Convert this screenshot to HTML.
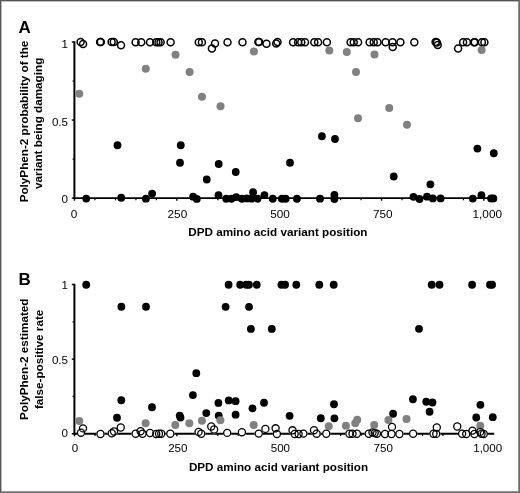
<!DOCTYPE html>
<html lang="en"><head><meta charset="utf-8"><title>PolyPhen-2 DPD variants</title>
<style>html,body{margin:0;padding:0;background:#fff}body{width:520px;height:493px;position:relative;overflow:hidden}</style></head>
<body>
<svg width="520" height="493" viewBox="0 0 520 493" style="position:absolute;left:0;top:0">
<rect x="0" y="0" width="520" height="493" fill="#fff"/>
<line x1="74.4" y1="41.25" x2="74.4" y2="199.04999999999998" stroke="#000" stroke-width="2"/><line x1="73.4" y1="198.1" x2="493.5" y2="198.1" stroke="#000" stroke-width="1.8"/><line x1="71.8" y1="42.00" x2="74" y2="42.00" stroke="#000" stroke-width="1.4"/><line x1="72.6" y1="81.03" x2="74" y2="81.03" stroke="#000" stroke-width="1.2"/><line x1="71.8" y1="120.05" x2="74" y2="120.05" stroke="#000" stroke-width="1.4"/><line x1="72.6" y1="159.07" x2="74" y2="159.07" stroke="#000" stroke-width="1.2"/><line x1="71.8" y1="198.10" x2="74" y2="198.10" stroke="#000" stroke-width="1.4"/><line x1="74.50" y1="198.1" x2="74.50" y2="200.70" stroke="#000" stroke-width="1.4"/><line x1="94.97" y1="198.1" x2="94.97" y2="200.30" stroke="#000" stroke-width="1.2"/><line x1="115.44" y1="198.1" x2="115.44" y2="200.30" stroke="#000" stroke-width="1.2"/><line x1="135.91" y1="198.1" x2="135.91" y2="200.30" stroke="#000" stroke-width="1.2"/><line x1="156.38" y1="198.1" x2="156.38" y2="200.30" stroke="#000" stroke-width="1.2"/><line x1="176.85" y1="198.1" x2="176.85" y2="200.70" stroke="#000" stroke-width="1.4"/><line x1="197.32" y1="198.1" x2="197.32" y2="200.30" stroke="#000" stroke-width="1.2"/><line x1="217.79" y1="198.1" x2="217.79" y2="200.30" stroke="#000" stroke-width="1.2"/><line x1="238.26" y1="198.1" x2="238.26" y2="200.30" stroke="#000" stroke-width="1.2"/><line x1="258.73" y1="198.1" x2="258.73" y2="200.30" stroke="#000" stroke-width="1.2"/><line x1="279.20" y1="198.1" x2="279.20" y2="200.70" stroke="#000" stroke-width="1.4"/><line x1="299.67" y1="198.1" x2="299.67" y2="200.30" stroke="#000" stroke-width="1.2"/><line x1="320.14" y1="198.1" x2="320.14" y2="200.30" stroke="#000" stroke-width="1.2"/><line x1="340.61" y1="198.1" x2="340.61" y2="200.30" stroke="#000" stroke-width="1.2"/><line x1="361.08" y1="198.1" x2="361.08" y2="200.30" stroke="#000" stroke-width="1.2"/><line x1="381.55" y1="198.1" x2="381.55" y2="200.70" stroke="#000" stroke-width="1.4"/><line x1="402.02" y1="198.1" x2="402.02" y2="200.30" stroke="#000" stroke-width="1.2"/><line x1="422.49" y1="198.1" x2="422.49" y2="200.30" stroke="#000" stroke-width="1.2"/><line x1="442.96" y1="198.1" x2="442.96" y2="200.30" stroke="#000" stroke-width="1.2"/><line x1="463.43" y1="198.1" x2="463.43" y2="200.30" stroke="#000" stroke-width="1.2"/><line x1="483.90" y1="198.1" x2="483.90" y2="200.70" stroke="#000" stroke-width="1.4"/>
<line x1="74.4" y1="283.75" x2="74.4" y2="434.65" stroke="#000" stroke-width="2"/><line x1="73.4" y1="433.7" x2="494.2" y2="433.7" stroke="#000" stroke-width="2.0"/><line x1="71.8" y1="284.50" x2="74" y2="284.50" stroke="#000" stroke-width="1.4"/><line x1="72.6" y1="321.80" x2="74" y2="321.80" stroke="#000" stroke-width="1.2"/><line x1="71.8" y1="359.10" x2="74" y2="359.10" stroke="#000" stroke-width="1.4"/><line x1="72.6" y1="396.40" x2="74" y2="396.40" stroke="#000" stroke-width="1.2"/><line x1="71.8" y1="433.70" x2="74" y2="433.70" stroke="#000" stroke-width="1.4"/><line x1="74.50" y1="433.7" x2="74.50" y2="436.30" stroke="#000" stroke-width="1.4"/><line x1="94.97" y1="433.7" x2="94.97" y2="435.90" stroke="#000" stroke-width="1.2"/><line x1="115.44" y1="433.7" x2="115.44" y2="435.90" stroke="#000" stroke-width="1.2"/><line x1="135.91" y1="433.7" x2="135.91" y2="435.90" stroke="#000" stroke-width="1.2"/><line x1="156.38" y1="433.7" x2="156.38" y2="435.90" stroke="#000" stroke-width="1.2"/><line x1="176.85" y1="433.7" x2="176.85" y2="436.30" stroke="#000" stroke-width="1.4"/><line x1="197.32" y1="433.7" x2="197.32" y2="435.90" stroke="#000" stroke-width="1.2"/><line x1="217.79" y1="433.7" x2="217.79" y2="435.90" stroke="#000" stroke-width="1.2"/><line x1="238.26" y1="433.7" x2="238.26" y2="435.90" stroke="#000" stroke-width="1.2"/><line x1="258.73" y1="433.7" x2="258.73" y2="435.90" stroke="#000" stroke-width="1.2"/><line x1="279.20" y1="433.7" x2="279.20" y2="436.30" stroke="#000" stroke-width="1.4"/><line x1="299.67" y1="433.7" x2="299.67" y2="435.90" stroke="#000" stroke-width="1.2"/><line x1="320.14" y1="433.7" x2="320.14" y2="435.90" stroke="#000" stroke-width="1.2"/><line x1="340.61" y1="433.7" x2="340.61" y2="435.90" stroke="#000" stroke-width="1.2"/><line x1="361.08" y1="433.7" x2="361.08" y2="435.90" stroke="#000" stroke-width="1.2"/><line x1="381.55" y1="433.7" x2="381.55" y2="436.30" stroke="#000" stroke-width="1.4"/><line x1="402.02" y1="433.7" x2="402.02" y2="435.90" stroke="#000" stroke-width="1.2"/><line x1="422.49" y1="433.7" x2="422.49" y2="435.90" stroke="#000" stroke-width="1.2"/><line x1="442.96" y1="433.7" x2="442.96" y2="435.90" stroke="#000" stroke-width="1.2"/><line x1="463.43" y1="433.7" x2="463.43" y2="435.90" stroke="#000" stroke-width="1.2"/><line x1="483.90" y1="433.7" x2="483.90" y2="436.30" stroke="#000" stroke-width="1.4"/>
<circle cx="117.5" cy="145.25" r="3.9" fill="#000"/><circle cx="180.75" cy="145.25" r="3.9" fill="#000"/><circle cx="180" cy="162.75" r="3.9" fill="#000"/><circle cx="86.2" cy="198.55" r="3.9" fill="#000"/><circle cx="121.25" cy="197.75" r="3.9" fill="#000"/><circle cx="145.9" cy="198.65" r="3.9" fill="#000"/><circle cx="152.1" cy="193.55" r="3.9" fill="#000"/><circle cx="193.1" cy="196.65" r="3.9" fill="#000"/><circle cx="196.8" cy="198.95" r="3.9" fill="#000"/><circle cx="321.9" cy="136.25" r="3.9" fill="#000"/><circle cx="335" cy="139.0" r="3.9" fill="#000"/><circle cx="218.7" cy="164.0" r="3.9" fill="#000"/><circle cx="290" cy="162.75" r="3.9" fill="#000"/><circle cx="235.75" cy="172.0" r="3.9" fill="#000"/><circle cx="206.75" cy="179.5" r="3.9" fill="#000"/><circle cx="218.5" cy="195.25" r="3.9" fill="#000"/><circle cx="226.25" cy="198.75" r="3.9" fill="#000"/><circle cx="231.5" cy="198.75" r="3.9" fill="#000"/><circle cx="236.25" cy="197.05" r="3.9" fill="#000"/><circle cx="241.9" cy="198.75" r="3.9" fill="#000"/><circle cx="246.9" cy="198.45" r="3.9" fill="#000"/><circle cx="251.5" cy="198.65" r="3.9" fill="#000"/><circle cx="253.1" cy="192.25" r="3.9" fill="#000"/><circle cx="257.5" cy="198.75" r="3.9" fill="#000"/><circle cx="264.4" cy="195.05" r="3.9" fill="#000"/><circle cx="272.75" cy="198.75" r="3.9" fill="#000"/><circle cx="281.9" cy="198.75" r="3.9" fill="#000"/><circle cx="285.6" cy="198.75" r="3.9" fill="#000"/><circle cx="296.9" cy="198.75" r="3.9" fill="#000"/><circle cx="320" cy="198.65" r="3.9" fill="#000"/><circle cx="334.4" cy="195.0" r="3.9" fill="#000"/><circle cx="334.4" cy="199.0" r="3.9" fill="#000"/><circle cx="393.75" cy="176.5" r="3.9" fill="#000"/><circle cx="477.4" cy="148.55" r="3.9" fill="#000"/><circle cx="493.8" cy="153.25" r="3.9" fill="#000"/><circle cx="430.4" cy="184.35" r="3.9" fill="#000"/><circle cx="413.5" cy="196.85" r="3.9" fill="#000"/><circle cx="419.5" cy="199.0" r="3.9" fill="#000"/><circle cx="427" cy="196.65" r="3.9" fill="#000"/><circle cx="432.8" cy="198.45" r="3.9" fill="#000"/><circle cx="440.6" cy="198.45" r="3.9" fill="#000"/><circle cx="472.8" cy="198.55" r="3.9" fill="#000"/><circle cx="481.4" cy="195.15" r="3.9" fill="#000"/><circle cx="491.1" cy="198.45" r="3.9" fill="#000"/><circle cx="493.4" cy="198.45" r="3.9" fill="#000"/>
<circle cx="79.25" cy="93.85" r="4.0" fill="#818181"/><circle cx="145.75" cy="68.85" r="4.0" fill="#818181"/><circle cx="175.55" cy="54.7" r="4.0" fill="#818181"/><circle cx="189.6" cy="72.1" r="4.0" fill="#818181"/><circle cx="202" cy="96.7" r="4.0" fill="#818181"/><circle cx="220.5" cy="106.35" r="4.0" fill="#818181"/><circle cx="253.9" cy="51.5" r="4.0" fill="#818181"/><circle cx="329.3" cy="50.5" r="4.0" fill="#818181"/><circle cx="346.8" cy="51.9" r="4.0" fill="#818181"/><circle cx="374.5" cy="54.6" r="4.0" fill="#818181"/><circle cx="356" cy="72.1" r="4.0" fill="#818181"/><circle cx="389.25" cy="108.1" r="4.0" fill="#818181"/><circle cx="358" cy="118.35" r="4.0" fill="#818181"/><circle cx="407" cy="124.85" r="4.0" fill="#818181"/><circle cx="481.6" cy="50.1" r="4.0" fill="#818181"/>
<circle cx="80.6" cy="42.1" r="4.25" fill="#fff"/><circle cx="83.05" cy="44.0" r="4.25" fill="#fff"/><circle cx="100.1" cy="42.1" r="4.25" fill="#fff"/><circle cx="100.8" cy="42.1" r="4.25" fill="#fff"/><circle cx="111.6" cy="42.1" r="4.25" fill="#fff"/><circle cx="113.75" cy="42.1" r="4.25" fill="#fff"/><circle cx="121" cy="45.25" r="4.25" fill="#fff"/><circle cx="135.6" cy="42.25" r="4.25" fill="#fff"/><circle cx="141.25" cy="42.25" r="4.25" fill="#fff"/><circle cx="150" cy="42.25" r="4.25" fill="#fff"/><circle cx="156.25" cy="42.25" r="4.25" fill="#fff"/><circle cx="158.5" cy="42.25" r="4.25" fill="#fff"/><circle cx="160.6" cy="42.25" r="4.25" fill="#fff"/><circle cx="170.6" cy="42.25" r="4.25" fill="#fff"/><circle cx="198.75" cy="42.25" r="4.25" fill="#fff"/><circle cx="201.9" cy="42.25" r="4.25" fill="#fff"/><circle cx="215" cy="43.5" r="4.25" fill="#fff"/><circle cx="211.9" cy="48.5" r="4.25" fill="#fff"/><circle cx="227.5" cy="42.25" r="4.25" fill="#fff"/><circle cx="242.5" cy="42.25" r="4.25" fill="#fff"/><circle cx="258.4" cy="42.1" r="4.25" fill="#fff"/><circle cx="259.1" cy="42.1" r="4.25" fill="#fff"/><circle cx="266.5" cy="43.75" r="4.25" fill="#fff"/><circle cx="276.2" cy="43.5" r="4.25" fill="#fff"/><circle cx="277.5" cy="42.0" r="4.25" fill="#fff"/><circle cx="293.1" cy="42.25" r="4.25" fill="#fff"/><circle cx="298.1" cy="42.25" r="4.25" fill="#fff"/><circle cx="301.25" cy="42.25" r="4.25" fill="#fff"/><circle cx="305" cy="42.25" r="4.25" fill="#fff"/><circle cx="314.3" cy="42.25" r="4.25" fill="#fff"/><circle cx="318.1" cy="42.25" r="4.25" fill="#fff"/><circle cx="326.9" cy="42.25" r="4.25" fill="#fff"/><circle cx="350.6" cy="42.25" r="4.25" fill="#fff"/><circle cx="353.75" cy="42.25" r="4.25" fill="#fff"/><circle cx="358.1" cy="42.25" r="4.25" fill="#fff"/><circle cx="369.6" cy="42.25" r="4.25" fill="#fff"/><circle cx="373.75" cy="42.25" r="4.25" fill="#fff"/><circle cx="377.5" cy="42.25" r="4.25" fill="#fff"/><circle cx="385.6" cy="42.25" r="4.25" fill="#fff"/><circle cx="392.5" cy="42.25" r="4.25" fill="#fff"/><circle cx="392.75" cy="46.9" r="4.25" fill="#fff"/><circle cx="400.4" cy="42.25" r="4.25" fill="#fff"/><circle cx="414.3" cy="42.25" r="4.25" fill="#fff"/><circle cx="435.6" cy="41.9" r="4.25" fill="#fff"/><circle cx="436.9" cy="42.5" r="4.25" fill="#fff"/><circle cx="437.75" cy="45" r="4.25" fill="#fff"/><circle cx="458.1" cy="48.5" r="4.25" fill="#fff"/><circle cx="463.1" cy="42.25" r="4.25" fill="#fff"/><circle cx="466.9" cy="42.25" r="4.25" fill="#fff"/><circle cx="474.1" cy="42.25" r="4.25" fill="#fff"/><circle cx="474.8" cy="42.25" r="4.25" fill="#fff"/><circle cx="481.9" cy="42.25" r="4.25" fill="#fff"/><circle cx="484.4" cy="42.25" r="4.25" fill="#fff"/>
<circle cx="80.6" cy="42.1" r="3.5" fill="none" stroke="#000" stroke-width="1.5"/><circle cx="83.05" cy="44.0" r="3.5" fill="none" stroke="#000" stroke-width="1.5"/><circle cx="100.1" cy="42.1" r="3.5" fill="none" stroke="#000" stroke-width="1.5"/><circle cx="100.8" cy="42.1" r="3.5" fill="none" stroke="#000" stroke-width="1.5"/><circle cx="111.6" cy="42.1" r="3.5" fill="none" stroke="#000" stroke-width="1.5"/><circle cx="113.75" cy="42.1" r="3.5" fill="none" stroke="#000" stroke-width="1.5"/><circle cx="121" cy="45.25" r="3.5" fill="none" stroke="#000" stroke-width="1.5"/><circle cx="135.6" cy="42.25" r="3.5" fill="none" stroke="#000" stroke-width="1.5"/><circle cx="141.25" cy="42.25" r="3.5" fill="none" stroke="#000" stroke-width="1.5"/><circle cx="150" cy="42.25" r="3.5" fill="none" stroke="#000" stroke-width="1.5"/><circle cx="156.25" cy="42.25" r="3.5" fill="none" stroke="#000" stroke-width="1.5"/><circle cx="158.5" cy="42.25" r="3.5" fill="none" stroke="#000" stroke-width="1.5"/><circle cx="160.6" cy="42.25" r="3.5" fill="none" stroke="#000" stroke-width="1.5"/><circle cx="170.6" cy="42.25" r="3.5" fill="none" stroke="#000" stroke-width="1.5"/><circle cx="198.75" cy="42.25" r="3.5" fill="none" stroke="#000" stroke-width="1.5"/><circle cx="201.9" cy="42.25" r="3.5" fill="none" stroke="#000" stroke-width="1.5"/><circle cx="215" cy="43.5" r="3.5" fill="none" stroke="#000" stroke-width="1.5"/><circle cx="211.9" cy="48.5" r="3.5" fill="none" stroke="#000" stroke-width="1.5"/><circle cx="227.5" cy="42.25" r="3.5" fill="none" stroke="#000" stroke-width="1.5"/><circle cx="242.5" cy="42.25" r="3.5" fill="none" stroke="#000" stroke-width="1.5"/><circle cx="258.4" cy="42.1" r="3.5" fill="none" stroke="#000" stroke-width="1.5"/><circle cx="259.1" cy="42.1" r="3.5" fill="none" stroke="#000" stroke-width="1.5"/><circle cx="266.5" cy="43.75" r="3.5" fill="none" stroke="#000" stroke-width="1.5"/><circle cx="276.2" cy="43.5" r="3.5" fill="none" stroke="#000" stroke-width="1.5"/><circle cx="277.5" cy="42.0" r="3.5" fill="none" stroke="#000" stroke-width="1.5"/><circle cx="293.1" cy="42.25" r="3.5" fill="none" stroke="#000" stroke-width="1.5"/><circle cx="298.1" cy="42.25" r="3.5" fill="none" stroke="#000" stroke-width="1.5"/><circle cx="301.25" cy="42.25" r="3.5" fill="none" stroke="#000" stroke-width="1.5"/><circle cx="305" cy="42.25" r="3.5" fill="none" stroke="#000" stroke-width="1.5"/><circle cx="314.3" cy="42.25" r="3.5" fill="none" stroke="#000" stroke-width="1.5"/><circle cx="318.1" cy="42.25" r="3.5" fill="none" stroke="#000" stroke-width="1.5"/><circle cx="326.9" cy="42.25" r="3.5" fill="none" stroke="#000" stroke-width="1.5"/><circle cx="350.6" cy="42.25" r="3.5" fill="none" stroke="#000" stroke-width="1.5"/><circle cx="353.75" cy="42.25" r="3.5" fill="none" stroke="#000" stroke-width="1.5"/><circle cx="358.1" cy="42.25" r="3.5" fill="none" stroke="#000" stroke-width="1.5"/><circle cx="369.6" cy="42.25" r="3.5" fill="none" stroke="#000" stroke-width="1.5"/><circle cx="373.75" cy="42.25" r="3.5" fill="none" stroke="#000" stroke-width="1.5"/><circle cx="377.5" cy="42.25" r="3.5" fill="none" stroke="#000" stroke-width="1.5"/><circle cx="385.6" cy="42.25" r="3.5" fill="none" stroke="#000" stroke-width="1.5"/><circle cx="392.5" cy="42.25" r="3.5" fill="none" stroke="#000" stroke-width="1.5"/><circle cx="392.75" cy="46.9" r="3.5" fill="none" stroke="#000" stroke-width="1.5"/><circle cx="400.4" cy="42.25" r="3.5" fill="none" stroke="#000" stroke-width="1.5"/><circle cx="414.3" cy="42.25" r="3.5" fill="none" stroke="#000" stroke-width="1.5"/><circle cx="435.6" cy="41.9" r="3.5" fill="none" stroke="#000" stroke-width="1.5"/><circle cx="436.9" cy="42.5" r="3.5" fill="none" stroke="#000" stroke-width="1.5"/><circle cx="437.75" cy="45" r="3.5" fill="none" stroke="#000" stroke-width="1.5"/><circle cx="458.1" cy="48.5" r="3.5" fill="none" stroke="#000" stroke-width="1.5"/><circle cx="463.1" cy="42.25" r="3.5" fill="none" stroke="#000" stroke-width="1.5"/><circle cx="466.9" cy="42.25" r="3.5" fill="none" stroke="#000" stroke-width="1.5"/><circle cx="474.1" cy="42.25" r="3.5" fill="none" stroke="#000" stroke-width="1.5"/><circle cx="474.8" cy="42.25" r="3.5" fill="none" stroke="#000" stroke-width="1.5"/><circle cx="481.9" cy="42.25" r="3.5" fill="none" stroke="#000" stroke-width="1.5"/><circle cx="484.4" cy="42.25" r="3.5" fill="none" stroke="#000" stroke-width="1.5"/>
<circle cx="86.2" cy="284.75" r="3.9" fill="#000"/><circle cx="121.4" cy="306.75" r="3.9" fill="#000"/><circle cx="146" cy="306.75" r="3.9" fill="#000"/><circle cx="196.3" cy="373.15" r="3.9" fill="#000"/><circle cx="192.9" cy="395.05" r="3.9" fill="#000"/><circle cx="121.3" cy="400.25" r="3.9" fill="#000"/><circle cx="117" cy="417.75" r="3.9" fill="#000"/><circle cx="152" cy="407.25" r="3.9" fill="#000"/><circle cx="179.7" cy="415.55" r="3.9" fill="#000"/><circle cx="180.5" cy="417.55" r="3.9" fill="#000"/><circle cx="228.6" cy="284.75" r="3.9" fill="#000"/><circle cx="240.2" cy="284.75" r="3.9" fill="#000"/><circle cx="246.3" cy="284.75" r="3.9" fill="#000"/><circle cx="248.9" cy="284.75" r="3.9" fill="#000"/><circle cx="256.7" cy="284.75" r="3.9" fill="#000"/><circle cx="281.4" cy="284.75" r="3.9" fill="#000"/><circle cx="285.1" cy="284.75" r="3.9" fill="#000"/><circle cx="296.3" cy="284.75" r="3.9" fill="#000"/><circle cx="319.3" cy="284.75" r="3.9" fill="#000"/><circle cx="333.7" cy="284.75" r="3.9" fill="#000"/><circle cx="431.7" cy="284.75" r="3.9" fill="#000"/><circle cx="439.5" cy="284.75" r="3.9" fill="#000"/><circle cx="472.1" cy="284.75" r="3.9" fill="#000"/><circle cx="490" cy="284.75" r="3.9" fill="#000"/><circle cx="492.1" cy="284.75" r="3.9" fill="#000"/><circle cx="225.6" cy="306.85" r="3.9" fill="#000"/><circle cx="249" cy="306.85" r="3.9" fill="#000"/><circle cx="250.9" cy="328.95" r="3.9" fill="#000"/><circle cx="271.8" cy="328.95" r="3.9" fill="#000"/><circle cx="419" cy="328.85" r="3.9" fill="#000"/><circle cx="218.4" cy="402.95" r="3.9" fill="#000"/><circle cx="228.75" cy="400.45" r="3.9" fill="#000"/><circle cx="235.6" cy="401.15" r="3.9" fill="#000"/><circle cx="206.25" cy="413.05" r="3.9" fill="#000"/><circle cx="218.75" cy="415.75" r="3.9" fill="#000"/><circle cx="235.6" cy="414.65" r="3.9" fill="#000"/><circle cx="252.5" cy="408.35" r="3.9" fill="#000"/><circle cx="264" cy="402.75" r="3.9" fill="#000"/><circle cx="289.6" cy="415.85" r="3.9" fill="#000"/><circle cx="320.8" cy="418.25" r="3.9" fill="#000"/><circle cx="334" cy="404.25" r="3.9" fill="#000"/><circle cx="334.4" cy="418.35" r="3.9" fill="#000"/><circle cx="393.1" cy="413.75" r="3.9" fill="#000"/><circle cx="412.9" cy="399.25" r="3.9" fill="#000"/><circle cx="426.25" cy="401.75" r="3.9" fill="#000"/><circle cx="432.5" cy="402.5" r="3.9" fill="#000"/><circle cx="429.6" cy="411.75" r="3.9" fill="#000"/><circle cx="480.4" cy="404.85" r="3.9" fill="#000"/><circle cx="476.25" cy="417.5" r="3.9" fill="#000"/><circle cx="492.75" cy="417.15" r="3.9" fill="#000"/>
<circle cx="79.25" cy="421.0" r="4.0" fill="#818181"/><circle cx="145.6" cy="423.35" r="4.0" fill="#818181"/><circle cx="175.3" cy="425.05" r="4.0" fill="#818181"/><circle cx="189.3" cy="423.35" r="4.0" fill="#818181"/><circle cx="201.9" cy="420.85" r="4.0" fill="#818181"/><circle cx="220.4" cy="420.25" r="4.0" fill="#818181"/><circle cx="253.7" cy="425.05" r="4.0" fill="#818181"/><circle cx="328.75" cy="426.25" r="4.0" fill="#818181"/><circle cx="345.9" cy="425.85" r="4.0" fill="#818181"/><circle cx="357.25" cy="419.65" r="4.0" fill="#818181"/><circle cx="355.25" cy="423.35" r="4.0" fill="#818181"/><circle cx="374.2" cy="425.0" r="4.0" fill="#818181"/><circle cx="388.4" cy="420.0" r="4.0" fill="#818181"/><circle cx="406.5" cy="419.0" r="4.0" fill="#818181"/><circle cx="480.25" cy="425.85" r="4.0" fill="#818181"/>
<circle cx="81" cy="432.7" r="4.2" fill="#fff"/><circle cx="83" cy="428.4" r="4.2" fill="#fff"/><circle cx="100.5" cy="434" r="4.2" fill="#fff"/><circle cx="111.75" cy="433.25" r="4.2" fill="#fff"/><circle cx="114" cy="431.5" r="4.2" fill="#fff"/><circle cx="120.75" cy="427.5" r="4.2" fill="#fff"/><circle cx="135.6" cy="433.75" r="4.2" fill="#fff"/><circle cx="140.6" cy="431.25" r="4.2" fill="#fff"/><circle cx="142.5" cy="433.75" r="4.2" fill="#fff"/><circle cx="150" cy="433" r="4.2" fill="#fff"/><circle cx="156.25" cy="434" r="4.2" fill="#fff"/><circle cx="159" cy="433.75" r="4.2" fill="#fff"/><circle cx="161.25" cy="433.75" r="4.2" fill="#fff"/><circle cx="170.3" cy="433.75" r="4.2" fill="#fff"/><circle cx="198.6" cy="431.9" r="4.2" fill="#fff"/><circle cx="201.25" cy="433.75" r="4.2" fill="#fff"/><circle cx="211.25" cy="426.5" r="4.2" fill="#fff"/><circle cx="214.1" cy="429.5" r="4.2" fill="#fff"/><circle cx="227.2" cy="432.9" r="4.2" fill="#fff"/><circle cx="241.9" cy="432.2" r="4.2" fill="#fff"/><circle cx="258.75" cy="433.6" r="4.2" fill="#fff"/><circle cx="265.4" cy="428.9" r="4.2" fill="#fff"/><circle cx="275.6" cy="428.3" r="4.2" fill="#fff"/><circle cx="276.9" cy="434" r="4.2" fill="#fff"/><circle cx="292.5" cy="430.3" r="4.2" fill="#fff"/><circle cx="294.7" cy="434" r="4.2" fill="#fff"/><circle cx="298.6" cy="434" r="4.2" fill="#fff"/><circle cx="303.4" cy="433.6" r="4.2" fill="#fff"/><circle cx="314" cy="430.2" r="4.2" fill="#fff"/><circle cx="316.6" cy="433.75" r="4.2" fill="#fff"/><circle cx="326.25" cy="433.75" r="4.2" fill="#fff"/><circle cx="349.4" cy="433.75" r="4.2" fill="#fff"/><circle cx="352.5" cy="433.75" r="4.2" fill="#fff"/><circle cx="356.9" cy="433.75" r="4.2" fill="#fff"/><circle cx="368.75" cy="433.75" r="4.2" fill="#fff"/><circle cx="372.5" cy="432.5" r="4.2" fill="#fff"/><circle cx="374.7" cy="433.1" r="4.2" fill="#fff"/><circle cx="376.9" cy="433.75" r="4.2" fill="#fff"/><circle cx="385.0" cy="434" r="4.2" fill="#fff"/><circle cx="391.5" cy="434" r="4.2" fill="#fff"/><circle cx="392.0" cy="426.9" r="4.2" fill="#fff"/><circle cx="399.4" cy="434" r="4.2" fill="#fff"/><circle cx="413.1" cy="433.75" r="4.2" fill="#fff"/><circle cx="433.5" cy="433.75" r="4.2" fill="#fff"/><circle cx="436.25" cy="433.9" r="4.2" fill="#fff"/><circle cx="436.8" cy="427.5" r="4.2" fill="#fff"/><circle cx="457.25" cy="426.5" r="4.2" fill="#fff"/><circle cx="462.1" cy="433.75" r="4.2" fill="#fff"/><circle cx="466.25" cy="434" r="4.2" fill="#fff"/><circle cx="472.5" cy="430.6" r="4.2" fill="#fff"/><circle cx="474.4" cy="434" r="4.2" fill="#fff"/><circle cx="480.25" cy="431.9" r="4.2" fill="#fff"/><circle cx="481.5" cy="433.75" r="4.2" fill="#fff"/><circle cx="483.75" cy="434" r="4.2" fill="#fff"/>
<circle cx="81" cy="432.7" r="3.55" fill="none" stroke="#000" stroke-width="1.3"/><circle cx="83" cy="428.4" r="3.55" fill="none" stroke="#000" stroke-width="1.3"/><circle cx="100.5" cy="434" r="3.55" fill="none" stroke="#000" stroke-width="1.3"/><circle cx="111.75" cy="433.25" r="3.55" fill="none" stroke="#000" stroke-width="1.3"/><circle cx="114" cy="431.5" r="3.55" fill="none" stroke="#000" stroke-width="1.3"/><circle cx="120.75" cy="427.5" r="3.55" fill="none" stroke="#000" stroke-width="1.3"/><circle cx="135.6" cy="433.75" r="3.55" fill="none" stroke="#000" stroke-width="1.3"/><circle cx="140.6" cy="431.25" r="3.55" fill="none" stroke="#000" stroke-width="1.3"/><circle cx="142.5" cy="433.75" r="3.55" fill="none" stroke="#000" stroke-width="1.3"/><circle cx="150" cy="433" r="3.55" fill="none" stroke="#000" stroke-width="1.3"/><circle cx="156.25" cy="434" r="3.55" fill="none" stroke="#000" stroke-width="1.3"/><circle cx="159" cy="433.75" r="3.55" fill="none" stroke="#000" stroke-width="1.3"/><circle cx="161.25" cy="433.75" r="3.55" fill="none" stroke="#000" stroke-width="1.3"/><circle cx="170.3" cy="433.75" r="3.55" fill="none" stroke="#000" stroke-width="1.3"/><circle cx="198.6" cy="431.9" r="3.55" fill="none" stroke="#000" stroke-width="1.3"/><circle cx="201.25" cy="433.75" r="3.55" fill="none" stroke="#000" stroke-width="1.3"/><circle cx="211.25" cy="426.5" r="3.55" fill="none" stroke="#000" stroke-width="1.3"/><circle cx="214.1" cy="429.5" r="3.55" fill="none" stroke="#000" stroke-width="1.3"/><circle cx="227.2" cy="432.9" r="3.55" fill="none" stroke="#000" stroke-width="1.3"/><circle cx="241.9" cy="432.2" r="3.55" fill="none" stroke="#000" stroke-width="1.3"/><circle cx="258.75" cy="433.6" r="3.55" fill="none" stroke="#000" stroke-width="1.3"/><circle cx="265.4" cy="428.9" r="3.55" fill="none" stroke="#000" stroke-width="1.3"/><circle cx="275.6" cy="428.3" r="3.55" fill="none" stroke="#000" stroke-width="1.3"/><circle cx="276.9" cy="434" r="3.55" fill="none" stroke="#000" stroke-width="1.3"/><circle cx="292.5" cy="430.3" r="3.55" fill="none" stroke="#000" stroke-width="1.3"/><circle cx="294.7" cy="434" r="3.55" fill="none" stroke="#000" stroke-width="1.3"/><circle cx="298.6" cy="434" r="3.55" fill="none" stroke="#000" stroke-width="1.3"/><circle cx="303.4" cy="433.6" r="3.55" fill="none" stroke="#000" stroke-width="1.3"/><circle cx="314" cy="430.2" r="3.55" fill="none" stroke="#000" stroke-width="1.3"/><circle cx="316.6" cy="433.75" r="3.55" fill="none" stroke="#000" stroke-width="1.3"/><circle cx="326.25" cy="433.75" r="3.55" fill="none" stroke="#000" stroke-width="1.3"/><circle cx="349.4" cy="433.75" r="3.55" fill="none" stroke="#000" stroke-width="1.3"/><circle cx="352.5" cy="433.75" r="3.55" fill="none" stroke="#000" stroke-width="1.3"/><circle cx="356.9" cy="433.75" r="3.55" fill="none" stroke="#000" stroke-width="1.3"/><circle cx="368.75" cy="433.75" r="3.55" fill="none" stroke="#000" stroke-width="1.3"/><circle cx="372.5" cy="432.5" r="3.55" fill="none" stroke="#000" stroke-width="1.3"/><circle cx="374.7" cy="433.1" r="3.55" fill="none" stroke="#000" stroke-width="1.3"/><circle cx="376.9" cy="433.75" r="3.55" fill="none" stroke="#000" stroke-width="1.3"/><circle cx="385.0" cy="434" r="3.55" fill="none" stroke="#000" stroke-width="1.3"/><circle cx="391.5" cy="434" r="3.55" fill="none" stroke="#000" stroke-width="1.3"/><circle cx="392.0" cy="426.9" r="3.55" fill="none" stroke="#000" stroke-width="1.3"/><circle cx="399.4" cy="434" r="3.55" fill="none" stroke="#000" stroke-width="1.3"/><circle cx="413.1" cy="433.75" r="3.55" fill="none" stroke="#000" stroke-width="1.3"/><circle cx="433.5" cy="433.75" r="3.55" fill="none" stroke="#000" stroke-width="1.3"/><circle cx="436.25" cy="433.9" r="3.55" fill="none" stroke="#000" stroke-width="1.3"/><circle cx="436.8" cy="427.5" r="3.55" fill="none" stroke="#000" stroke-width="1.3"/><circle cx="457.25" cy="426.5" r="3.55" fill="none" stroke="#000" stroke-width="1.3"/><circle cx="462.1" cy="433.75" r="3.55" fill="none" stroke="#000" stroke-width="1.3"/><circle cx="466.25" cy="434" r="3.55" fill="none" stroke="#000" stroke-width="1.3"/><circle cx="472.5" cy="430.6" r="3.55" fill="none" stroke="#000" stroke-width="1.3"/><circle cx="474.4" cy="434" r="3.55" fill="none" stroke="#000" stroke-width="1.3"/><circle cx="480.25" cy="431.9" r="3.55" fill="none" stroke="#000" stroke-width="1.3"/><circle cx="481.5" cy="433.75" r="3.55" fill="none" stroke="#000" stroke-width="1.3"/><circle cx="483.75" cy="434" r="3.55" fill="none" stroke="#000" stroke-width="1.3"/>
<g font-family="Liberation Sans, Arial, Helvetica, sans-serif" fill="#000">
<text x="18.4" y="32.6" font-size="17" font-weight="bold">A</text>
<text x="18.5" y="284.6" font-size="17" font-weight="bold">B</text>
<text x="68" y="47.8" font-size="11.6" text-anchor="end">1</text>
<text x="68" y="125.6" font-size="11.6" text-anchor="end">0.5</text>
<text x="68" y="202.9" font-size="11.6" text-anchor="end">0</text>
<text x="68" y="288.5" font-size="11.6" text-anchor="end">1</text>
<text x="68" y="363.5" font-size="11.6" text-anchor="end">0.5</text>
<text x="68" y="437.4" font-size="11.6" text-anchor="end">0</text>
<text x="74.1" y="217.65" font-size="11.8" text-anchor="middle">0</text>
<text x="177.4" y="217.65" font-size="11.8" text-anchor="middle">250</text>
<text x="280.0" y="217.65" font-size="11.8" text-anchor="middle">500</text>
<text x="382.8" y="217.65" font-size="11.8" text-anchor="middle">750</text>
<text x="487.3" y="217.65" font-size="11.8" text-anchor="middle">1,000</text>
<text x="75.1" y="451.7" font-size="11.6" text-anchor="middle">0</text>
<text x="177.8" y="451.7" font-size="11.6" text-anchor="middle">250</text>
<text x="280.4" y="451.7" font-size="11.6" text-anchor="middle">500</text>
<text x="383.2" y="451.7" font-size="11.6" text-anchor="middle">750</text>
<text x="487.7" y="451.7" font-size="11.6" text-anchor="middle">1,000</text>
<text x="277.9" y="236.4" font-size="11.7" font-weight="bold" text-anchor="middle">DPD amino acid variant position</text>
<text x="278.5" y="471.3" font-size="11.7" font-weight="bold" text-anchor="middle">DPD amino acid variant position</text>
<text transform="translate(28.25 121.5) rotate(-90)" font-size="11.7" font-weight="bold" text-anchor="middle">PolyPhen-2 probability of the</text>
<text transform="translate(42.45 123.3) rotate(-90)" font-size="11.7" font-weight="bold" text-anchor="middle">variant being damaging</text>
<text transform="translate(28.1 359.3) rotate(-90)" font-size="11.7" font-weight="bold" text-anchor="middle">PolyPhen-2 estimated</text>
<text transform="translate(42.5 359.4) rotate(-90)" font-size="11.7" font-weight="bold" text-anchor="middle">false-positive rate</text>
</g>
<rect x="0" y="0" width="520" height="1" fill="#555"/>
<rect x="0" y="1" width="520" height="1" fill="#bdbdbd"/>
<rect x="0" y="0" width="1" height="493" fill="#555"/>
<rect x="1" y="1" width="1" height="492" fill="#b8b8b8"/>
<rect x="518" y="1" width="1" height="492" fill="#909090"/>
<rect x="519" y="0" width="1" height="493" fill="#6c6c6c"/>
<rect x="1" y="491" width="518" height="1" fill="#949494"/>
<rect x="0" y="492" width="520" height="1" fill="#707070"/>
</svg>
</body></html>
